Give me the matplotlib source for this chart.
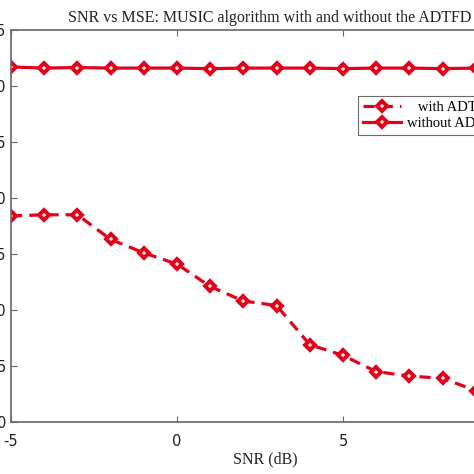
import matplotlib
matplotlib.use("Agg")
import matplotlib.pyplot as plt

plt.rcParams['axes.unicode_minus'] = False

snr = [-5, -4, -3, -2, -1, 0, 1, 2, 3, 4, 5, 6, 7, 8, 9, 10]
mse_with = [18.4, 18.5, 18.5, 16.3, 15.1, 14.1, 12.1, 10.8, 10.4, 6.9, 5.95, 4.5, 4.1, 3.9, 2.8, 2.3]
mse_without = [31.7, 31.6, 31.65, 31.6, 31.6, 31.6, 31.55, 31.6, 31.6, 31.6, 31.55, 31.6, 31.6, 31.55, 31.6, 31.6]
xticks = [-5, 0, 5, 10]
yticks = [0, 5, 10, 15, 20, 25, 30, 35]

red = '#e3001b'
serif = 'Liberation Serif'
fig = plt.figure(figsize=(4.74, 4.74), dpi=100)
ax = fig.add_axes([11/474, 52/474, 498/474, 392/474])

mk = dict(marker='D', markersize=5, markeredgewidth=2.8, markerfacecolor='#fbe0e0',
          markeredgecolor=red)
ax.plot(snr, mse_with, linestyle=(0, (3.5, 2.2)), color=red, lw=2.3,
        label='   with ADTFD', **mk)
ax.plot(snr, mse_without, linestyle='-', color=red, lw=2.3,
        label='without ADTFD', **mk)

ax.set_xlim(-5, 10)
ax.set_ylim(0, 35)
ax.set_xticks(xticks)
ax.set_yticks(yticks)
for s in ax.spines.values():
    s.set_color('#5f6b6b')
    s.set_linewidth(1.2)
ax.tick_params(direction='in', top=True, right=True, length=4, color='#5f6b6b',
               labelsize=10.5, labelcolor='#222222')
ax.tick_params(axis='x', pad=9)
for lab in ax.get_xticklabels() + ax.get_yticklabels():
    lab.set_family('DejaVu Sans')

ax.set_title('SNR vs MSE: MUSIC algorithm with and without the ADTFD',
             family=serif, fontsize=11.5, color='#222222', pad=6, x=0.52)
ax.set_xlabel('SNR (dB)', family=serif, fontsize=11.5, color='#222222', labelpad=2)
ax.xaxis.set_label_coords(0.51, -0.075)

leg = ax.legend(loc='upper left', bbox_to_anchor=(0.697, 0.832), frameon=True,
                fancybox=False, edgecolor='#444444', prop={'family': serif, 'size': 10.5},
                handlelength=2.6, handletextpad=0.4, borderpad=0.35, labelspacing=0.2,
                borderaxespad=0)
leg.get_frame().set_linewidth(0.8)

fig.savefig('out.png', dpi=100)
